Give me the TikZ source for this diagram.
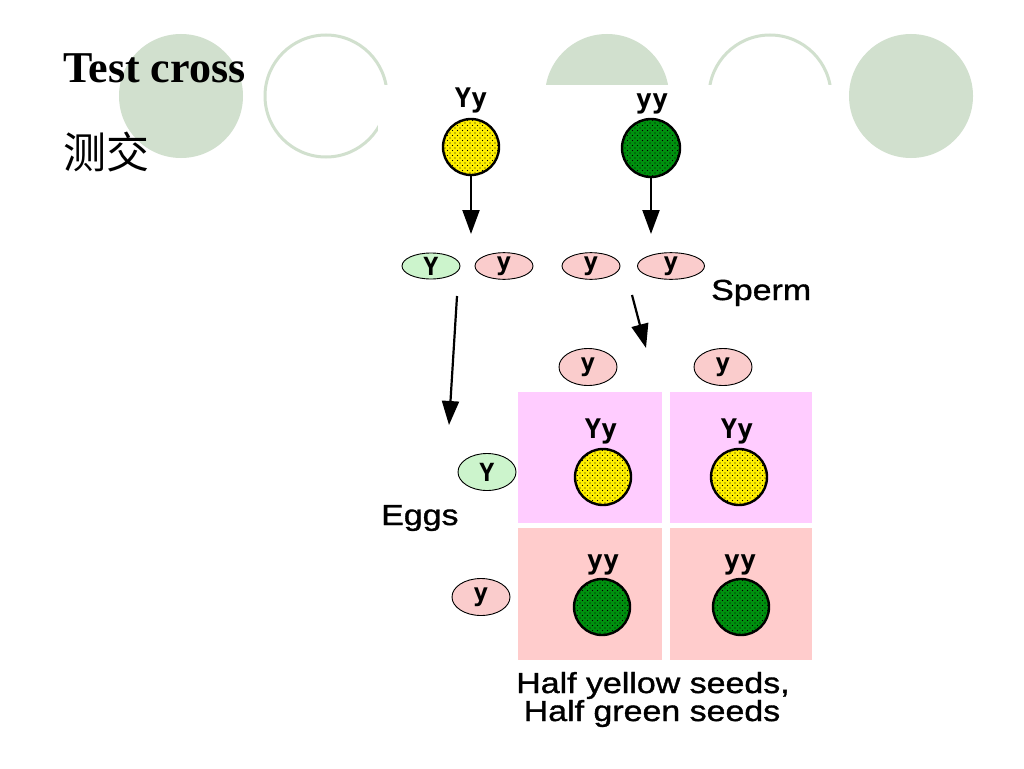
\documentclass[tikz,border=0pt]{standalone}
\usepackage{fontspec}
\setmainfont{Liberation Serif}
\setsansfont{DejaVu Sans}
\setmonofont{DejaVu Sans Mono}
\newfontfamily\cjk{Noto Sans CJK SC}
\newfontfamily\labfont{Liberation Sans}[FakeStretch=1.17,FakeBold=1.2]
\usepackage{tikz}
\usetikzlibrary{arrows.meta,positioning,shapes,patterns}

\definecolor{deco}{RGB}{209,224,206}
\definecolor{peayellow}{RGB}{255,240,0}
\definecolor{peagreen}{RGB}{0,145,15}
\definecolor{gampink}{RGB}{250,204,204}
\definecolor{gamgreen}{RGB}{204,244,204}
\definecolor{cellviolet}{RGB}{255,204,255}
\definecolor{cellpink}{RGB}{255,204,204}

\pgfdeclarepatternformonly{seeddots}{\pgfqpoint{-1pt}{-1pt}}{\pgfqpoint{5pt}{5pt}}{\pgfqpoint{5pt}{5pt}}{%
  \pgfpathcircle{\pgfqpoint{0pt}{0pt}}{0.55pt}
  \pgfpathcircle{\pgfqpoint{2.5pt}{2.5pt}}{0.55pt}
  \pgfusepath{fill}}

\begin{document}
\begin{tikzpicture}[x=1pt,y=-1pt,
            pea/.style={draw,circle,line width=2.4pt,minimum size=56pt,inner sep=0pt,
              postaction={pattern=seeddots,pattern color=black}},
            yellowpea/.style={pea,fill=peayellow},
            greenpea/.style={pea,fill=peagreen},
            gam/.style={draw,ellipse,line width=.9pt,minimum width=58pt,minimum height=26pt,
              inner sep=0pt,font=\ttfamily\bfseries\fontsize{25}{25}\selectfont},
            tall/.style={minimum height=37pt},
            pinkgam/.style={gam,fill=gampink},
            greengam/.style={gam,fill=gamgreen},
            geno/.style={anchor=base,inner sep=0pt,font=\ttfamily\bfseries\fontsize{27}{27}\selectfont},
            cell/.style={rectangle,minimum width=144pt,minimum height=131pt,inner sep=0pt},
            lab/.style={inner sep=0pt,anchor=base,font=\labfont\fontsize{29}{29}\selectfont},
            every edge/.style={draw,line width=2.2pt,-{Triangle[length=24pt,width=17pt]}}
          ]
          \useasboundingbox (0,0) rectangle (1024,768);
          \fill[white] (0,0) rectangle (1024,768);

          %slide background
          \fill[deco] (181,96) circle (62);
          \draw[deco,line width=3pt] (326,96) circle (61);
          \fill[deco] (607,96) circle (62);
          \draw[deco,line width=3pt] (770,96) circle (61);
          \fill[deco] (911,96) circle (62);
          \fill[white] (378,85) rectangle (846,768);

          %title
          \node[anchor=base west,inner sep=0pt,font=\bfseries\fontsize{44}{44}\selectfont] (title) at (63,82) {Test cross};
          \node[anchor=west,inner sep=0pt,font=\cjk\fontsize{43}{43}\selectfont] (titlecn) at (63,152) {测交};

          %parents
          \node[geno] (p1lab) at (471,107) {Yy};
          \node[yellowpea] (p1) at (471,147) {};
          \node[geno] (p2lab) at (652,108) {yy};
          \node[greenpea,minimum size=58pt] (p2) at (651,148) {};

          %gametes
          \node[greengam] (g1) at (431,266) {Y};
          \node[pinkgam] (g2) at (504,266) {y};
          \node[pinkgam] (g3) at (591,266) {y};
          \node[pinkgam,minimum width=67pt] (g4) at (671,266) {y};
          \node[lab,anchor=base west] (sperm) at (711,300) {Sperm};

          %arrow ends
          \coordinate (p1end) at (471,234);
          \coordinate (p2end) at (651,234);
          \coordinate (eggtop) at (457,296);
          \coordinate (eggend) at (449,425);
          \coordinate (spermtop) at (632,295);
          \coordinate (spermend) at (646,348);

          %square
          \node[cell,fill=cellviolet] (c11) at (590,457.5) {};
          \node[cell,fill=cellviolet,minimum width=142pt] (c12) at (741,457.5) {};
          \node[cell,fill=cellpink,minimum height=132pt] (c21) at (590,594) {};
          \node[cell,fill=cellpink,minimum width=142pt,minimum height=132pt] (c22) at (741,594) {};

          \node[pinkgam,tall] (s1) at (588,367) {y};
          \node[pinkgam,tall] (s2) at (723,367) {y};
          \node[greengam,tall] (e1) at (487,472) {Y};
          \node[pinkgam,tall] (e2) at (481,597) {y};
          \node[lab,anchor=base west] (eggs) at (381,525) {Eggs};

          %offspring
          \node[geno] (o11lab) at (601,438) {Yy};
          \node[yellowpea] (o11) at (603,477) {};
          \node[geno] (o12lab) at (737,438) {Yy};
          \node[yellowpea] (o12) at (739,477) {};
          \node[geno] (o21lab) at (603,569) {yy};
          \node[greenpea] (o21) at (602,607) {};
          \node[geno] (o22lab) at (740,569) {yy};
          \node[greenpea] (o22) at (741,607) {};

          \node[lab] (result1) at (653,693) {Half yellow seeds,};
          \node[lab] (result2) at (652,721) {Half green seeds};

          \path
          (p1) edge (p1end)
          (p2) edge (p2end)
          (eggtop) edge (eggend)
          (spermtop) edge (spermend)
          ;
      \end{tikzpicture}
\end{document}
